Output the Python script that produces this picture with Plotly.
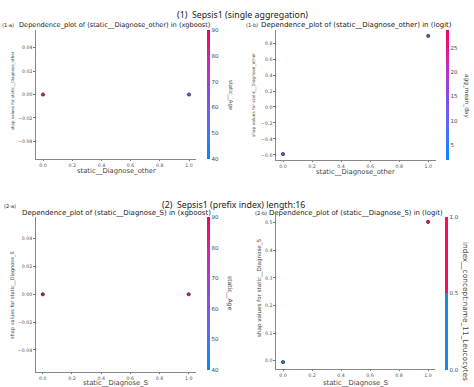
import plotly.graph_objects as go

W, H = 474, 387

# ---- data ----
x_1a = [0.0, 1.0]
y_1a = [0.0, 0.0]
c_1a = [86, 66]          # static__Age

x_1b = [0.0, 1.0]
y_1b = [-0.59, 0.89]
c_1b = [9, 12]           # agg_mean_day

x_2a = [0.0, 1.0]
y_2a = [0.0, 0.0]
c_2a = [88, 82]          # static__Age

x_2b = [0.0, 1.0]
y_2b = [-0.005, 0.503]
c_2b = [0.0, 1.0]        # index__concept:name_11_Leucocytes

x_ticks = [0.0, 0.2, 0.4, 0.6, 0.8, 1.0]
y_ticks_1a = [-0.04, -0.02, 0.0, 0.02, 0.04]
y_ticks_1b = [-0.6, -0.4, -0.2, 0.0, 0.2, 0.4, 0.6, 0.8]
y_ticks_2a = [-0.04, -0.02, 0.0, 0.02, 0.04]
y_ticks_2b = [0.0, 0.1, 0.2, 0.3, 0.4, 0.5]
cb_ticks_age = [40, 50, 60, 70, 80, 90]
cb_ticks_day = [5, 10, 15, 20, 25]
cb_ticks_leu = [0.0, 0.5, 1.0]

main_titles = ["(1)  Sepsis1 (single aggregation)", "(2)  Sepsis1 (prefix index) length:16"]
panel_tags = ["(1-a)", "(1-b)", "(2-a)", "(2-b)"]
panel_titles = [
    "Dependence_plot of (static__Diagnose_other) in (xgboost)",
    "Dependence_plot of (static__Diagnose_other) in (logit)",
    "Dependence_plot of (static__Diagnose_S) in (xgboost)",
    "Dependence_plot of (static__Diagnose_S) in (logit)",
]
x_titles = ["static__Diagnose_other", "static__Diagnose_other", "static__Diagnose_S", "static__Diagnose_S"]
y_titles = ["shap values for static__Diagnose_other", "shap values for static__Diagnose_other",
            "shap values for static__Diagnose_S", "shap values for static__Diagnose_S"]
cb_titles = ["static__Age", "agg_mean_day", "static__Age", "index__concept:name_11_Leucocytes"]

red_blue = [[0.0, "#008bfb"], [0.25, "#5a6cf0"], [0.5, "#8e4be0"], [0.75, "#c82ab4"], [1.0, "#ff0052"]]
two_col = [[0.0, "#1e88e5"], [0.5, "#1e88e5"], [0.5, "#ff0d57"], [1.0, "#ff0d57"]]

def px(v): return v / W
def py(v): return 1 - v / H

fig = go.Figure()
series = [(x_1a, y_1a, c_1a), (x_1b, y_1b, c_1b), (x_2a, y_2a, c_2a), (x_2b, y_2b, c_2b)]
for i, (xs, ys, cs) in enumerate(series):
    sfx = "" if i == 0 else str(i + 1)
    fig.add_trace(go.Scatter(
        x=xs, y=ys, mode="markers", xaxis="x" + sfx, yaxis="y" + sfx,
        marker=dict(size=3.2, color=cs, coloraxis="coloraxis" + sfx,
                    line=dict(width=0.8, color="rgba(30,25,50,0.9)")),
        showlegend=False, hoverinfo="skip"))

dom = [
    ((35.7, 196.3), (159, 30)),
    ((275.75, 435.5), (160, 30)),
    ((35.5, 196.0), (371.5, 217)),
    ((275.8, 435.3), (369, 215)),
]
yr = [(-0.055, 0.055), (-0.664, 0.964), (-0.0555, 0.0555), (-0.030, 0.528)]
yt = [y_ticks_1a, y_ticks_1b, y_ticks_2a, y_ticks_2b]
yfmt = [".2f", ".1f", ".2f", ".1f"]

tickfont = dict(family="DejaVu Sans", size=4.7, color="#555")
layout = dict(width=W, height=H, margin=dict(l=0, r=0, t=0, b=0, autoexpand=False),
              paper_bgcolor="white", plot_bgcolor="white")
for i in range(4):
    sfx = "" if i == 0 else str(i + 1)
    (x0, x1), (yb, ytp) = dom[i]
    layout["xaxis" + sfx] = dict(
        domain=[px(x0), px(x1)], range=[-0.05, 1.05], anchor="y" + sfx,
        tickvals=x_ticks, tickformat=".1f", ticks="outside", ticklen=1.5, tickwidth=0.6,
        tickcolor="#777", showline=True, linecolor="#888", linewidth=0.8,
        showgrid=False, zeroline=False, tickfont=tickfont, automargin=False)
    layout["yaxis" + sfx] = dict(
        domain=[py(yb), py(ytp)], range=list(yr[i]), anchor="x" + sfx,
        tickvals=yt[i], tickformat=yfmt[i], ticks="outside", ticklen=1.5, tickwidth=0.6,
        tickcolor="#777", showline=True, linecolor="#888", linewidth=0.8,
        showgrid=False, zeroline=False, tickfont=tickfont, automargin=False)

cbs = [
    (207, 30, 159, 40, 90, cb_ticks_age, red_blue, ".0f"),
    (446, 30, 160, 1.9, 28.7, cb_ticks_day, red_blue, ".0f"),
    (207, 217, 370, 40, 90, cb_ticks_age, red_blue, ".0f"),
    (445, 217, 370, 0.0, 1.0, cb_ticks_leu, two_col, ".1f"),
]
for i, (cx, ct, cbm, cmin, cmax, ticks, cs, fmt) in enumerate(cbs):
    sfx = "" if i == 0 else str(i + 1)
    layout["coloraxis" + sfx] = dict(
        cmin=cmin, cmax=cmax, colorscale=cs,
        colorbar=dict(x=px(cx), xanchor="left", y=py(cbm), yanchor="bottom",
                      len=(cbm - ct) / H, lenmode="fraction", thickness=3,
                      outlinewidth=0, xpad=0, ypad=0, ticks="", tickvals=ticks,
                      tickformat=fmt,
                      tickfont=dict(family="DejaVu Sans", size=5.5, color="#444")))

ann = []
def A(text, x, y, size, angle=0, fam="DejaVu Sans", color="#333", xanchor="center"):
    ann.append(dict(text=text, x=px(x), y=py(y), xref="paper", yref="paper",
                    showarrow=False, textangle=angle, xanchor=xanchor, yanchor="middle",
                    font=dict(family=fam, size=size, color=color)))

A(main_titles[0], 242, 15, 8.8, fam="Noto Sans", color="#222")
A(main_titles[1], 233, 205, 8.8, fam="Noto Sans", color="#222")

tag_pos = [(0, 25), (244, 25), (2, 206), (253, 213)]
title_pos = [(114, 25), (356, 25), (116, 213), (356, 213)]
title_size = [6.6, 7.0, 7.0, 6.9]
for i in range(4):
    A(panel_tags[i], *tag_pos[i], 5.0, color="#222", xanchor="left")
    A(panel_titles[i], *title_pos[i], title_size[i], color="#222")

xt_pos = [(116, 171), (355, 171.5), (115, 383), (355, 383)]
yt_pos = [(12, 91), (254, 95), (12, 295), (259, 288)]
cbt_pos = [(231, 95), (467, 96), (230, 293), (466, 311)]
cbt_size = [5.3, 5.8, 6.0, 7.4]
ytt_size = [4.0, 4.3, 5.0, 5.6]
for i in range(4):
    A(x_titles[i], *xt_pos[i], 6.8, color="#444")
    A(y_titles[i], *yt_pos[i], ytt_size[i], angle=-90, color="#444")
    A(cb_titles[i], *cbt_pos[i], cbt_size[i], angle=90, color="#444")

layout["annotations"] = ann
fig.update_layout(**layout)
fig.write_html("out.html", config={"displayModeBar": False},
               post_script="document.body.style.margin='0';document.body.style.padding='0';")
